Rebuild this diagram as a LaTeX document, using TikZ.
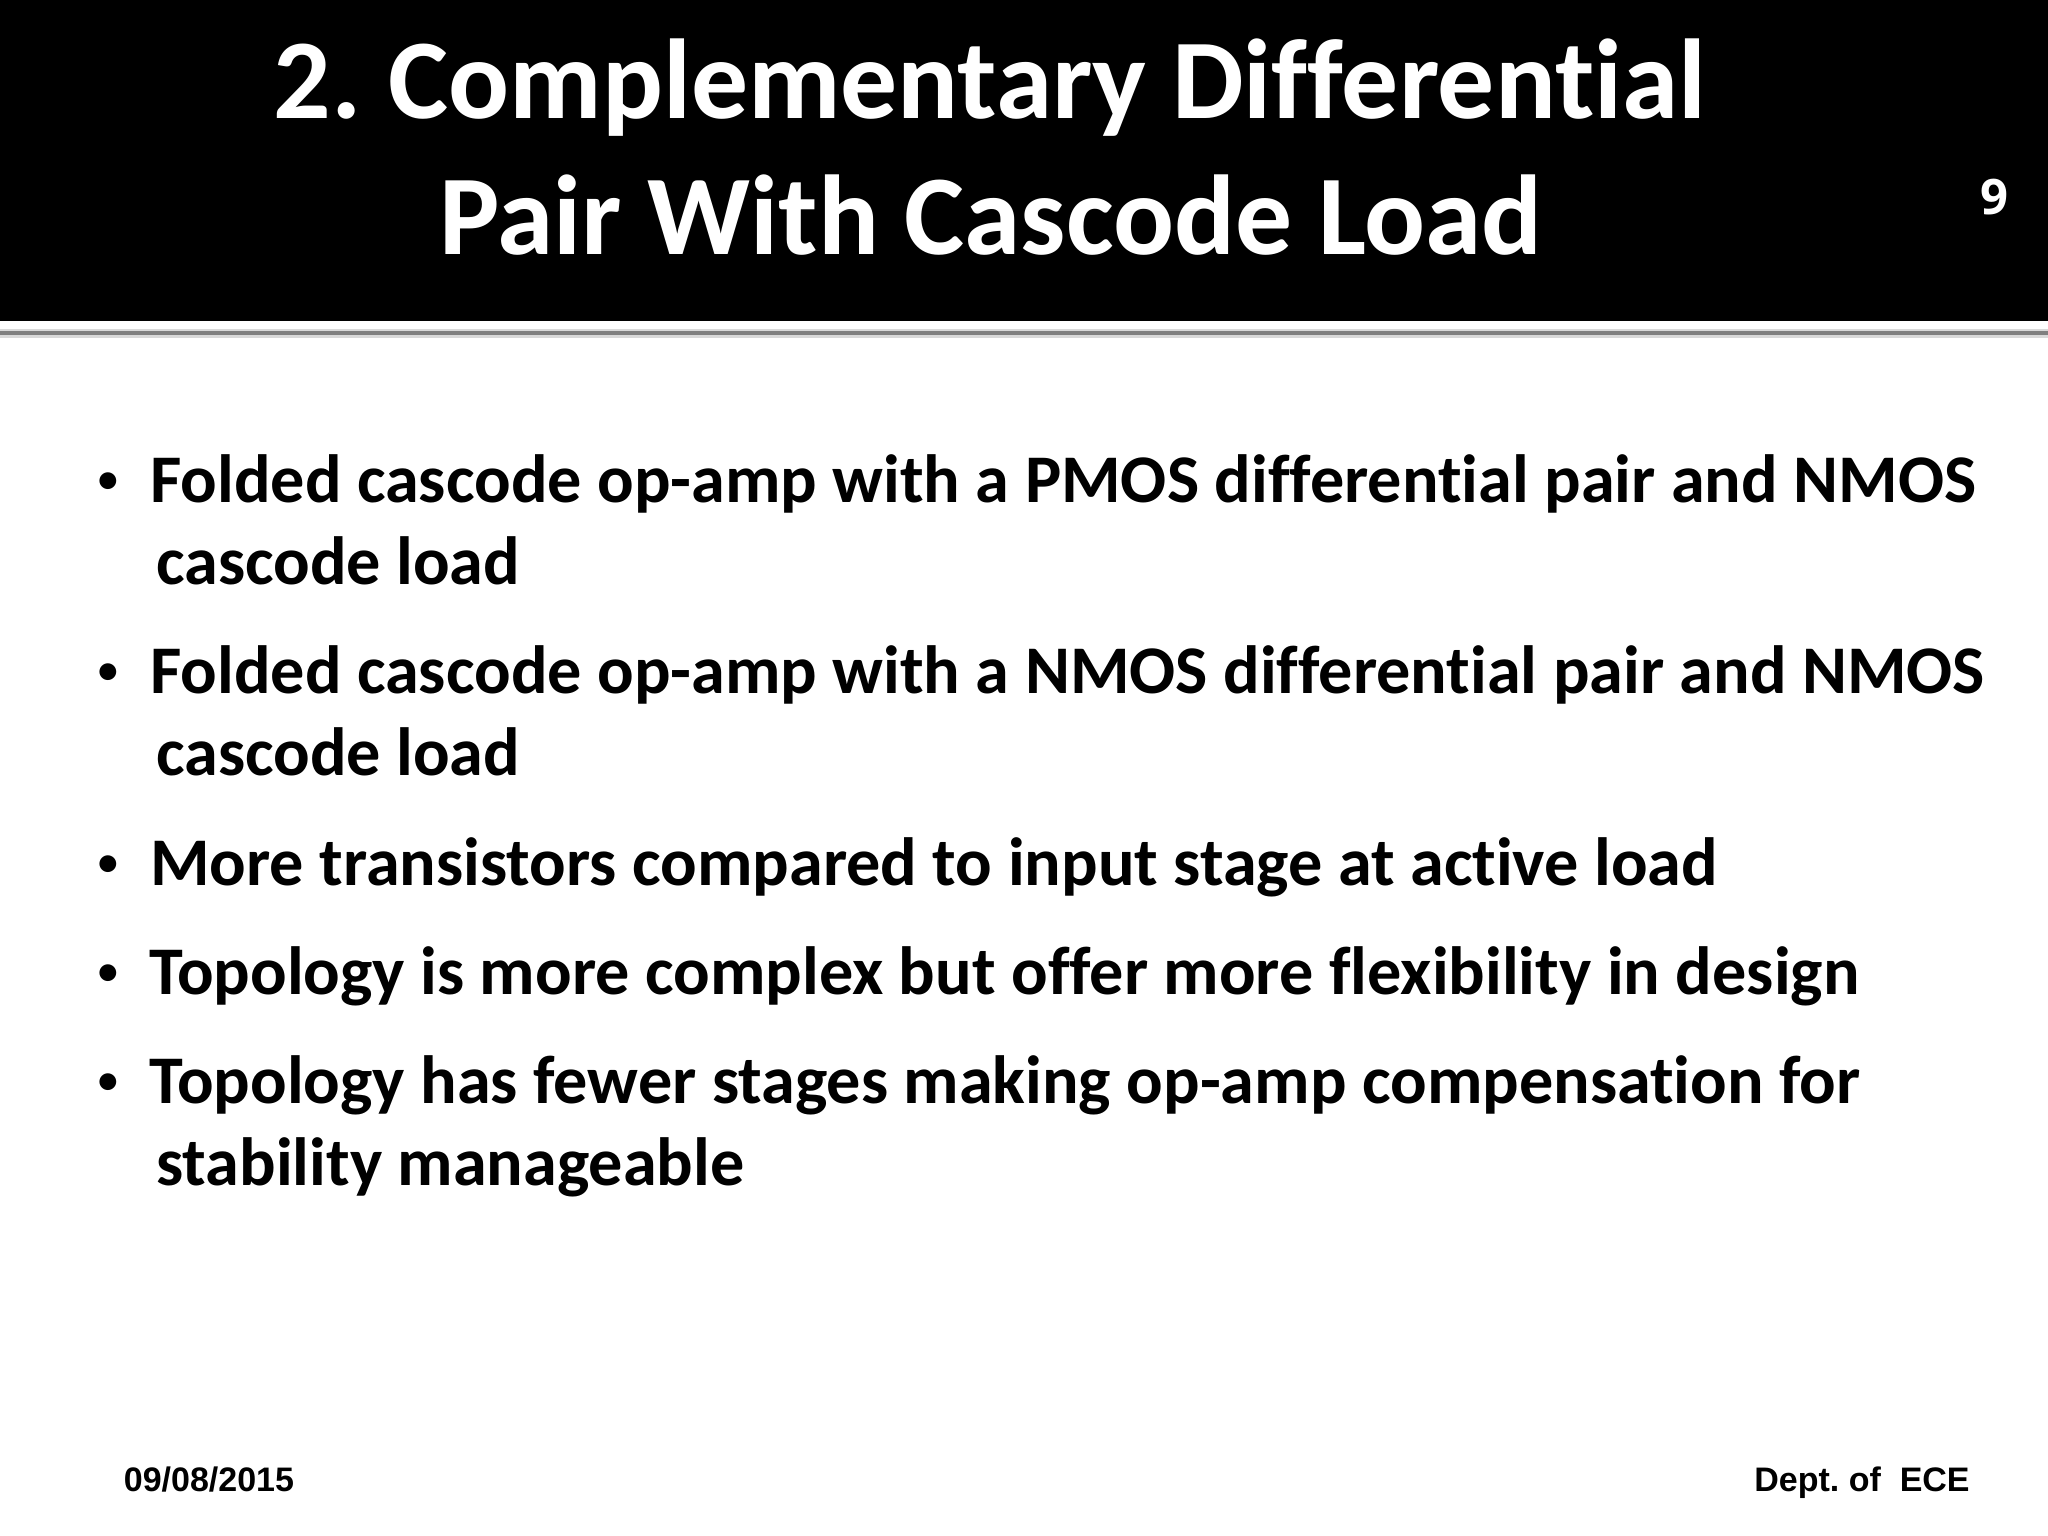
\documentclass[tikz,border=0pt]{standalone}
\usepackage{fontspec}
\setmainfont[Ligatures=NoCommon,Numbers=Lining]{Carlito}
\newfontfamily\footfont{Liberation Sans}
\newfontfamily\pagefont{Open Sans}
\frenchspacing
\tikzset{
  titleline/.style={anchor=base,text=white,font=\fontsize{113.6pt}{113.6pt}\selectfont\bfseries,inner sep=0pt},
  bodyline/.style={anchor=base west,font=\fontsize{68.2pt}{68.2pt}\selectfont\bfseries,inner sep=0pt},
  bulletmark/.style={anchor=base west,font=\fontsize{47.5pt}{47.5pt}\selectfont,inner sep=0pt},
  footline/.style={anchor=base,font=\footfont\fontsize{34pt}{34pt}\selectfont\bfseries,inner sep=0pt}
}
\begin{document}
\begin{tikzpicture}[x=1pt,y=-1pt]
  \useasboundingbox (0,0) rectangle (2048,1536);
  % header band
  \fill[black] (0,0) rectangle (2048,321);
  \fill[black!15] (0,329) rectangle (2048,338);
  \fill[black!50] (0,331) rectangle (2048,335);
  \node[titleline] (title1) at (990,119) {2.\hspace{1.5pt} Complementary Differential};
  \node[titleline] (title2) at (991,254) {Pair With Cascode Load};
  \node[anchor=base,text=white,font=\pagefont\fontsize{49pt}{49pt}\selectfont\bfseries,inner sep=0pt] (pagenum) at (1994,214) {9};
  % bullets
  \node[bulletmark] (b1) at (96,494) {•};
  \node[bodyline] (t1) at (150,502) {Folded cascode op-amp with a PMOS differential pair and NMOS};
  \node[bodyline] (t1b) at (156,584) {cascode load};
  \node[bulletmark] (b2) at (96,685) {•};
  \node[bodyline] (t2) at (150,693) {Folded cascode op-amp with a NMOS differential pair and NMOS};
  \node[bodyline] (t2b) at (156,775) {cascode load};
  \node[bulletmark] (b3) at (96,877) {•};
  \node[bodyline] (t3) at (150,885) {More transistors compared to input stage at active load};
  \node[bulletmark] (b4) at (96,986) {•};
  \node[bodyline] (t4) at (149,994) {Topology is more complex but offer more flexibility in design};
  \node[bulletmark] (b5) at (96,1095) {•};
  \node[bodyline] (t5) at (149,1103) {Topology has fewer stages making op-amp compensation for};
  \node[bodyline] (t5b) at (156,1185) {stability manageable};
  % footer
  \node[footline] (datefoot) at (209,1491) {09/08/2015};
  \node[footline] (deptfoot) at (1862,1491) {Dept. of\ \ ECE};
\end{tikzpicture}
\end{document}
